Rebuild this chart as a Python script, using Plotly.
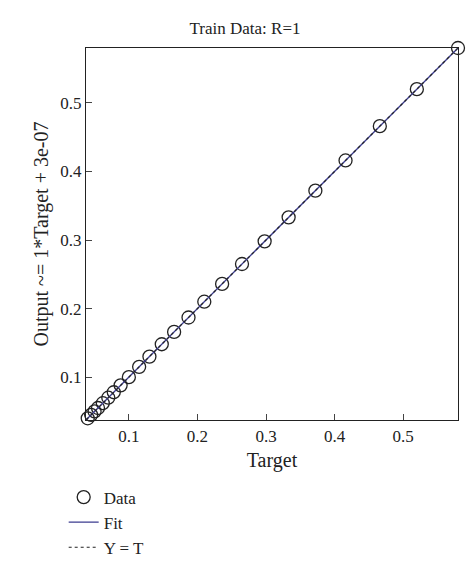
import plotly.graph_objects as go

# Targets (Output equals Target, R=1)
target = [0.040, 0.045, 0.050, 0.055, 0.062, 0.070, 0.078, 0.088, 0.100,
          0.115, 0.130, 0.148, 0.166, 0.187, 0.210, 0.236, 0.265, 0.298,
          0.333, 0.372, 0.416, 0.466, 0.520, 0.580]
output = list(target)
line_x = [0.038, 0.580]
tick_vals = [0.1, 0.2, 0.3, 0.4, 0.5]

FONT = dict(family="Liberation Serif, DejaVu Serif, serif", color="#222", size=17)
NAVY = "#3b3b8f"

fig = go.Figure()
fig.add_trace(go.Scatter(
    x=target, y=output, mode="markers", name="Data", cliponaxis=False,
    marker=dict(symbol="circle-open", size=13, color="#222", line=dict(width=1.3)),
))
fig.add_trace(go.Scatter(
    x=line_x, y=line_x, mode="lines", name="Fit",
    line=dict(color=NAVY, width=1.3),
))
fig.add_trace(go.Scatter(
    x=line_x, y=line_x, mode="lines", name="Y = T",
    line=dict(color="#222", width=1.2, dash="dot"),
))

axis = dict(range=[0.0375, 0.58], tickvals=tick_vals, ticks="inside", ticklen=6,
            showgrid=False, zeroline=False, showline=True, mirror=True,
            linecolor="#222", linewidth=1.2, tickfont=dict(size=17), automargin=False)
fig.update_layout(
    width=474, height=583, font=FONT,
    plot_bgcolor="white", paper_bgcolor="white",
    margin=dict(l=78, r=24, t=40, b=171),
    title=dict(text="Train Data: R=1", x=0.5, xanchor="center", y=0.975, font=dict(size=17)),
    xaxis=dict(axis, title=dict(text="Target", standoff=8)),
    yaxis=dict(axis, title=dict(text="Output ~= 1*Target + 3e-07", standoff=6)),
    legend=dict(x=-0.06, xanchor="left", y=-0.16, yanchor="top", font=dict(size=17),
                bgcolor="rgba(0,0,0,0)", tracegroupgap=6),
)
fig.write_html("out.html")
